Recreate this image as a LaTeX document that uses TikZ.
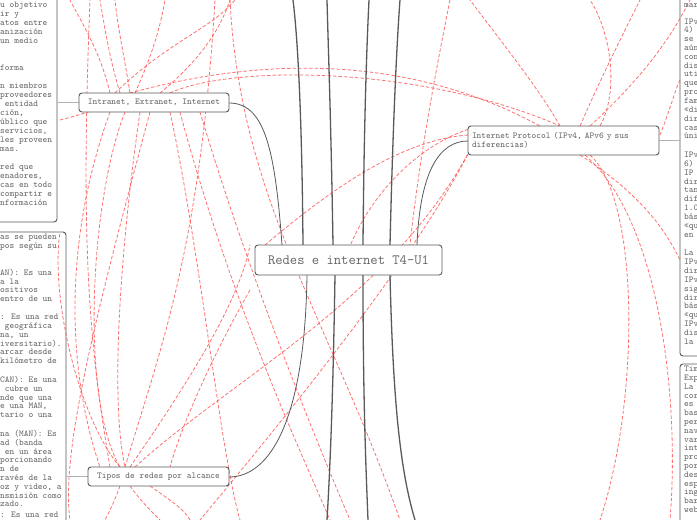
\documentclass[tikz,border=0pt]{standalone}
\begin{document}
\begin{tikzpicture}[x=1pt,y=-1pt,
  box/.style={draw=black!65,line width=0.9pt,rounded corners=3pt,fill=white,font=\ttfamily\fontsize{9}{9}\selectfont,text=black!60,inner sep=0pt},
  sm/.style={font=\ttfamily\fontsize{9}{9}\selectfont,text=black!60,anchor=base west,inner sep=0pt},
  trunk/.style={draw=black!65,line width=1.3pt},
  br/.style={draw=black!65,line width=0.8pt},
  gl/.style={draw=black!30,line width=0.8pt},
  rel/.style={draw=red!70,line width=0.8pt,dash pattern=on 3.5pt off 2pt,opacity=0.8}]
\useasboundingbox (0,0) rectangle (697,520);
% side boxes
\draw[box] (-10,-10) rectangle (57,222);
\draw[box] (-10,232) rectangle (66,530);
\draw[box] (680,-10) rectangle (710,356);
\draw[box] (680,364) rectangle (710,530);
% relations (dashed)
\draw[rel] (170,93) .. controls (230,65) and (420,65) .. (560,126);
\draw[rel] (130,93) .. controls (250,60) and (400,50) .. (540,126);
\draw[rel] (265,245) .. controls (330,190) and (400,140) .. (468,135);
\draw[rel] (340,275) .. controls (360,200) and (420,140) .. (480,126);
\draw[rel] (110,93) .. controls (100,50) and (80,20) .. (70,0);
\draw[rel] (120,93) .. controls (110,60) and (105,30) .. (100,0);
\draw[rel] (130,93) .. controls (125,60) and (118,30) .. (115,0);
\draw[rel] (135,93) .. controls (150,60) and (160,30) .. (165,0);
\draw[rel] (160,93) .. controls (200,60) and (220,30) .. (230,0);
\draw[rel] (115,93) .. controls (170,40) and (210,30) .. (235,0);
\draw[rel] (125,112) .. controls (90,200) and (80,400) .. (120,467);
\draw[rel] (110,112) .. controls (60,250) and (70,380) .. (100,467);
\draw[rel] (140,112) .. controls (120,250) and (110,400) .. (125,467);
\draw[rel] (170,112) .. controls (200,250) and (220,450) .. (240,520);
\draw[rel] (200,112) .. controls (250,280) and (320,450) .. (350,520);
\draw[rel] (180,112) .. controls (230,300) and (300,450) .. (330,520);
\draw[rel] (150,112) .. controls (100,300) and (60,450) .. (70,520);
\draw[rel] (60,120) .. controls (100,110) and (120,100) .. (125,93);
\draw[rel] (120,467) .. controls (80,420) and (50,300) .. (60,232);
\draw[rel] (130,467) .. controls (190,380) and (240,300) .. (250,245);
\draw[rel] (135,467) .. controls (230,380) and (390,300) .. (470,150);
\draw[rel] (125,467) .. controls (160,350) and (200,250) .. (215,0);
\draw[rel] (110,467) .. controls (90,350) and (80,250) .. (90,0);
\draw[rel] (120,486) .. controls (115,500) and (110,510) .. (105,520);
\draw[rel] (130,486) .. controls (140,500) and (150,510) .. (160,520);
\draw[rel] (150,486) .. controls (170,500) and (185,510) .. (190,520);
\draw[rel] (230,0) .. controls (240,200) and (330,320) .. (400,520);
\draw[rel] (560,126) .. controls (540,90) and (500,40) .. (470,0);
\draw[rel] (580,126) .. controls (600,80) and (620,40) .. (640,0);
\draw[rel] (590,126) .. controls (640,80) and (670,40) .. (690,0);
\draw[rel] (600,126) .. controls (620,90) and (610,30) .. (590,0);
\draw[rel] (580,155) .. controls (650,200) and (670,240) .. (680,260);
\draw[rel] (585,155) .. controls (660,220) and (680,400) .. (670,520);
\draw[rel] (590,155) .. controls (640,200) and (640,400) .. (600,520);
\draw[rel] (660,135) .. controls (670,110) and (675,90) .. (680,80);
\draw[rel] (470,150) .. controls (420,250) and (300,400) .. (200,520);
\draw[rel] (450,0) .. controls (440,50) and (420,150) .. (410,245);
\draw[rel] (250,290) .. controls (210,360) and (180,430) .. (170,467);
% left top text
\foreach \y/\t in {7/u objetivo,16/ir y,25/atos entre,34/anización,43/un medio,70/forma,88/n miembros,97/proveedores,106/{\ }entidad,115/{ción,},124/úblico que,133/{servicios,},142/les proveen,151/mas.,169/red que,178/{enadores,},187/cas en todo,196/compartir e,205/nformación}
  \node[sm] at (0,\y) {\t};
\foreach \y/\t in {239/as se pueden,248/pos según su,275/AN): Es una,284/a la,292/ositivos,301/entro de un,319/: Es una red,328/{\ }geográfica,337/{na, un},346/iversitario).,354/arcar desde,363/kilómetro de,382/CAN): Es una,391/{\ }cubre un,400/nde que una,408/{e una MAN,},417/tario o una,436/na (MAN): Es,445/ad (banda,454/{\ }en un área,462/porcionando,471/n de,480/ravés de la,489/{oz y video, a},498/nsmisión como,506/zado.,517/: Es una red}
  \node[sm] at (0,\y) {\t};
\foreach \y/\t in {7/mar,24/IPv,32/4),41/se,50/aún,59/con,68/dis,76/uti,85/que,94/pro,103/fam,112/«di,121/dir,130/cas,138/úni,157/IPv,166/6),175/IP,184/dir,192/tan,201/dif,210/1.0,219/bás,228/«qu,237/en,255/La,264/IPv,273/dir,282/IPv,291/sig,300/dir,308/bás,317/«qu,326/IPv,335/dis,344/la,371/Tim,380/Exp,389/La,398/cor,406/es,415/bas,424/per,433/nav,442/var,450/int,459/pro,468/por,477/des,486/esp,494/ing,503/bar,512/web}
  \node[sm] at (684,\y) {\t};
% gray links to boxes
\draw[gl] (57,102.5) -- (79,102.5);
\draw[gl] (659,140.5) -- (680,140.5);
\draw[gl] (66,476.5) -- (88,476.5);
% branches
\draw[br] (282,245) .. controls (275,150) and (265,103) .. (229,103);
\draw[br] (417,245) .. controls (420,170) and (440,141) .. (468,141);
\draw[br] (307,275) .. controls (305,420) and (270,477) .. (229,477);
\draw[trunk] (303,245) .. controls (302,120) and (298,40) .. (293,0);
\draw[trunk] (333,245) .. controls (331,120) and (328,40) .. (327,0);
\draw[trunk] (363,245) .. controls (364,120) and (367,40) .. (369,0);
\draw[trunk] (390,245) .. controls (393,120) and (397,40) .. (400,0);
\draw[trunk] (335,275) .. controls (333,400) and (330,470) .. (327,520);
\draw[trunk] (363,275) .. controls (363,400) and (366,470) .. (368,520);
\draw[trunk] (390,275) .. controls (393,400) and (400,470) .. (415,520);
% main nodes
\node[box,minimum width=150pt,minimum height=19pt] (intra) at (154,102.5) {Intranet, Extranet, Internet};
\node[box,minimum width=191pt,minimum height=29pt,align=left,text width=183pt] (ip) at (563.5,140.5) {Internet Protocol (IPv4, APv6 y sus\\diferencias)};
\node[box,minimum width=141pt,minimum height=19pt] (tipos) at (158.5,476.5) {Tipos de redes por alcance};
\node[box,minimum width=187pt,minimum height=30pt,font=\ttfamily\fontsize{14.2}{16}\selectfont] (root) at (348.5,260) {Redes e internet T4-U1};
\end{tikzpicture}
\end{document}
